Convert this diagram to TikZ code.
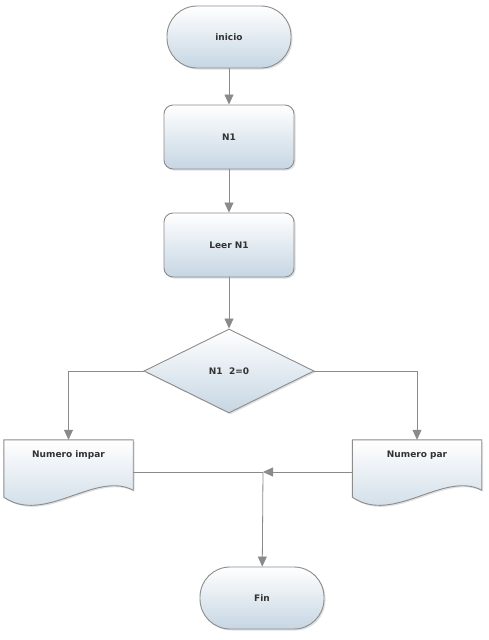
\documentclass[tikz,border=0pt]{standalone}
\usepackage{fontspec}
\setmainfont{DejaVu Sans}
\usepackage{xcolor}
\usetikzlibrary{shapes.geometric, arrows.meta, positioning, calc, shadows, backgrounds}

\definecolor{boxline}{HTML}{8C8C8C}
\definecolor{boxfill}{HTML}{C6D6E3}
\definecolor{linegray}{HTML}{8A8A8A}

% document shape with a wavy bottom, drawn behind the node text
\newcommand{\docshape}[1]{%
  \begin{pgfonlayer}{background}
  \path[docpath] (#1.north west) -- (#1.north east) -- ($(#1.south east)+(0,10)$)
    .. controls ($(#1.south east)+(-38,30)$) and ($(#1.south west)+(41,-25)$) .. ($(#1.south west)+(0,3)$) -- cycle;
  \end{pgfonlayer}}

\begin{document}
\begin{tikzpicture}[
    x=1pt, y=1pt,
    font=\fontsize{9}{11}\selectfont\bfseries\color{black!80},
    shade/.style={draw=boxline, line width=0.9pt, top color=white, bottom color=boxfill,
        drop shadow={opacity=0.25, shadow xshift=1.5pt, shadow yshift=-1.5pt}},
    terminal/.style={shade, rectangle, rounded corners=30pt, minimum width=124pt, minimum height=62pt, align=center},
    process/.style={shade, rectangle, rounded corners=9pt, minimum width=130pt, minimum height=64pt, align=center},
    decision/.style={shade, diamond, minimum width=170pt, minimum height=84pt, inner sep=0pt, align=center},
    doc/.style={rectangle, minimum width=129pt, inner ysep=0pt, text height=17pt, text depth=43pt},
    docpath/.style={shade},
    line/.style={draw=linegray, line width=0.8pt},
    arrow/.style={line, -{Triangle[length=10pt, width=9pt]}, color=linegray}
]
\useasboundingbox (0,0) rectangle (488,-640);

% Start
\node[terminal] (inicio) at (229,-37) {inicio};

% Variable
\node[process, below of=inicio, node distance=100pt] (n1) {N1};

% Read
\node[process, below of=n1, node distance=108pt] (leer) {Leer N1};

% Condition
\node[decision, below of=leer, node distance=126pt] (cond) {N1~~2=0};

% Outputs
\node[doc] (impar) at (68.5,-470) {Numero impar};
\node[doc] (par) at (417,-470) {Numero par};
\docshape{impar}
\docshape{par}

% End
\coordinate (join) at (263,-472);
\node[terminal] (fin) at (262,-598) {Fin};

% Arrows
\draw[arrow] (inicio) -- (n1);
\draw[arrow] (n1) -- (leer);
\draw[arrow] (leer) -- (cond);
\draw[arrow] (cond.west) -| (impar.north);
\draw[arrow] (cond.east) -| (par.north);
\draw[line] (impar.east |- join) -- (join);
\draw[arrow] (par.west |- join) -- (join);
\draw[arrow] (join) -- (fin);

\end{tikzpicture}
\end{document}
